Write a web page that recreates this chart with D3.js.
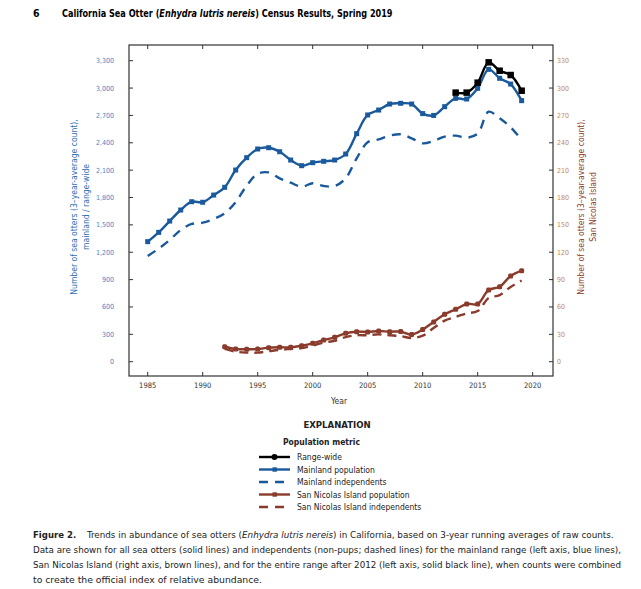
<!DOCTYPE html>
<html><head><meta charset="utf-8">
<script src="https://cdn.jsdelivr.net/npm/d3@7"></script>
<style>
body{margin:0;background:#fff;}
text{font-family:"Liberation Sans Narrow","Arial Narrow","DejaVu Sans Condensed",sans-serif;}
</style></head>
<body><svg id="c" width="641" height="589"></svg>
<script>
// ---- data ----
const mainYears = d3.range(1985, 2020);
const mainlandPop = [1316,1418,1542,1663,1754,1748,1827,1912,2101,2237,2332,2346,2302,2211,2149,2182,2197,2211,2277,2500,2705,2759,2825,2833,2825,2720,2700,2796,2887,2880,2997,3205,3107,3044,2862];
const mainlandInd = [1160,1240,1334,1444,1510,1524,1565,1627,1750,1930,2060,2075,2010,1962,1919,1956,1926,1926,2010,2230,2405,2438,2478,2493,2449,2394,2420,2467,2478,2456,2500,2741,2668,2570,2430];
const rangeYears = d3.range(2013, 2020);
const rangeWide = [2950,2950,3059,3282,3190,3143,2971];
const sniYears = d3.range(1992, 2020);
const sniPop = [16.4,13.9,13.6,13.9,15.4,15.8,15.8,17.5,20.1,23.8,26.7,31.1,32.9,32.6,33.7,32.9,33.0,29.8,35.2,43.6,52.0,57.4,63.3,63.3,78.6,82.2,94.0,99.8];
const sniInd = [14,11,10,10,11.5,13,14,15,17.5,21,23,27,29,29,30,29,28,26,28.5,37,45,49,53,55.5,69.8,73,82,89];
const leftTicks = d3.range(0, 3301, 300);
const rightTicks = d3.range(0, 331, 30);
const xTicks = d3.range(1985, 2021, 5);
const legendItems = [
  {label:"Range-wide", color:"#000000", dash:null, marker:"circle"},
  {label:"Mainland population", color:"#1a5a9c", dash:null, marker:"square"},
  {label:"Mainland independents", color:"#1a5a9c", dash:"9,7", marker:null},
  {label:"San Nicolas Island population", color:"#8a3b2c", dash:null, marker:"square"},
  {label:"San Nicolas Island independents", color:"#8a3b2c", dash:"9,7", marker:null}
];

const svg = d3.select("#c");
const F = {l:129, r:553, t:45, b:376};
const x = d3.scaleLinear().domain([1983.3, 2021.85]).range([F.l, F.r]);
const yL = d3.scaleLinear().domain([0, 3300]).range([361.7, 60.7]);
const yR = d3.scaleLinear().domain([0, 330]).range([361.7, 60.7]);
const BLUE="#1a5a9c", BROWN="#8a3b2c";

// helper: fit a multi-tspan text to a width by horizontal scaling of its group
function fitGroup(x0, y0, width, build){
  const g = svg.append("g");
  const t = g.append("text").attr("x",0).attr("y",0);
  build(t);
  const w = t.node().getComputedTextLength();
  g.attr("transform",`translate(${x0},${y0}) scale(${width/w},1)`);
  return g;
}

// header
svg.append("text").attr("x",33).attr("y",17).attr("font-size",10.5).attr("font-weight","bold").text("6");
fitGroup(62, 17, 331, t=>{
  t.attr("font-size",10.5).attr("font-weight","bold");
  t.append("tspan").text("California Sea Otter (");
  t.append("tspan").attr("font-style","italic").text("Enhydra lutris nereis");
  t.append("tspan").text(") Census Results, Spring 2019");
});

// frame
svg.append("rect").attr("x",F.l).attr("y",F.t).attr("width",F.r-F.l).attr("height",F.b-F.t)
  .attr("fill","none").attr("stroke","#333").attr("stroke-width",1.2);

// x ticks
const gx = svg.append("g");
xTicks.forEach(t=>{
  gx.append("line").attr("x1",x(t)).attr("x2",x(t)).attr("y1",F.b).attr("y2",F.b-4).attr("stroke","#333");
  gx.append("line").attr("x1",x(t)).attr("x2",x(t)).attr("y1",F.t).attr("y2",F.t+4).attr("stroke","#333");
  gx.append("text").attr("x",x(t)).attr("y",388).attr("text-anchor","middle").attr("font-size",7.5).attr("fill","#333").text(t);
});
svg.append("text").attr("x",339).attr("y",404).attr("text-anchor","middle").attr("font-size",8.5).attr("fill","#333").text("Year");

// left ticks
leftTicks.forEach(t=>{
  svg.append("line").attr("x1",F.l).attr("x2",F.l+4).attr("y1",yL(t)).attr("y2",yL(t)).attr("stroke","#333");
  svg.append("text").attr("x",114).attr("y",yL(t)+2.5).attr("text-anchor","end").attr("font-size",7).attr("fill","#3f86c8").text(d3.format(",")(t));
});
rightTicks.forEach(t=>{
  svg.append("line").attr("x1",F.r).attr("x2",F.r-4).attr("y1",yR(t)).attr("y2",yR(t)).attr("stroke","#333");
  svg.append("text").attr("x",557).attr("y",yR(t)+2.5).attr("text-anchor","start").attr("font-size",7).attr("fill","#c98a45").text(t);
});

// axis titles
const lt = svg.append("text").attr("transform","translate(77,207) rotate(-90)").attr("text-anchor","middle").attr("font-size",8.5).attr("fill","#2a6db5");
lt.append("tspan").attr("x",0).attr("dy",0).text("Number of sea otters (3–year-average count),");
lt.append("tspan").attr("x",0).attr("dy",12).text("mainland / range-wide");
const rt = svg.append("text").attr("transform","translate(584,207) rotate(-90)").attr("text-anchor","middle").attr("font-size",8.5).attr("fill",BROWN);
rt.append("tspan").attr("x",0).attr("dy",0).text("Number of sea otters (3–year-average count),");
rt.append("tspan").attr("x",0).attr("dy",12).text("San Nicolas Island");

// lines
const curve = d3.curveCatmullRom.alpha(0.5);
function series(years, vals, y, color, dash, marker, ms){
  const data = years.map((yr,i)=>({x:yr, v:vals[i]}));
  const line = d3.line().x(d=>x(d.x)).y(d=>y(d.v)).curve(curve);
  svg.append("path").datum(data).attr("d",line).attr("fill","none").attr("stroke",color)
    .attr("stroke-width",2.4).attr("stroke-dasharray",dash).attr("stroke-linejoin","round");
  if(marker){
    svg.append("g").selectAll("rect").data(data).join("rect")
      .attr("x",d=>x(d.x)-ms/2).attr("y",d=>y(d.v)-ms/2).attr("width",ms).attr("height",ms)
      .attr("rx", marker==="round"?1.5:0).attr("fill",color);
  }
}
series(mainYears, mainlandInd, yL, BLUE, "9,7", null);
series(sniYears, sniInd, yR, BROWN, "9,6", null);
series(sniYears, sniPop, yR, BROWN, null, "round", 5);
series(mainYears, mainlandPop, yL, BLUE, null, "square", 5);
series(rangeYears, rangeWide, yL, "#000", null, "square", 6.5);

// legend
svg.append("text").attr("x",337).attr("y",428).attr("text-anchor","middle").attr("font-size",9.5).attr("font-weight","bold").attr("fill","#222").text("EXPLANATION");
svg.append("text").attr("x",283).attr("y",445).attr("font-size",8.5).attr("font-weight","bold").attr("fill","#222").text("Population metric");
legendItems.forEach((it,i)=>{
  const yy = 457 + i*12.5;
  svg.append("line").attr("x1",259).attr("x2",290).attr("y1",yy).attr("y2",yy).attr("stroke",it.color)
    .attr("stroke-width",2.4).attr("stroke-dasharray",it.dash ? "9,7" : null);
  if(it.marker==="circle") svg.append("circle").attr("cx",274.5).attr("cy",yy).attr("r",3).attr("fill",it.color);
  if(it.marker==="square") svg.append("rect").attr("x",272.5).attr("y",yy-2.2).attr("width",4.4).attr("height",4.4).attr("fill",it.color);
  svg.append("text").attr("x",297).attr("y",yy+3).attr("font-size",8.5).attr("fill","#222").text(it.label);
});

// caption
const capY = [538, 553, 568, 583];
svg.append("text").attr("x",33).attr("y",capY[0]).attr("font-size",9.5).attr("font-weight","bold").attr("fill","#222").text("Figure 2.");
fitGroup(87, capY[0], 527, t=>{
  t.attr("font-size",9.5).attr("fill","#222");
  t.append("tspan").text("Trends in abundance of sea otters (");
  t.append("tspan").attr("font-style","italic").text("Enhydra lutris nereis");
  t.append("tspan").text(") in California, based on 3-year running averages of raw counts.");
});
const capLines = [
 "Data are shown for all sea otters (solid lines) and independents (non-pups; dashed lines) for the mainland range (left axis, blue lines),",
 "San Nicolas Island (right axis, brown lines), and for the entire range after 2012 (left axis, solid black line), when counts were combined",
 "to create the official index of relative abundance."
];
const capLen = [588, 588, 229];
capLines.forEach((t,i)=>{
  svg.append("text").attr("x",33).attr("y",capY[i+1]).attr("font-size",9.5).attr("fill","#222")
    .attr("textLength",capLen[i]).attr("lengthAdjust","spacingAndGlyphs").text(t);
});
</script></body></html>
